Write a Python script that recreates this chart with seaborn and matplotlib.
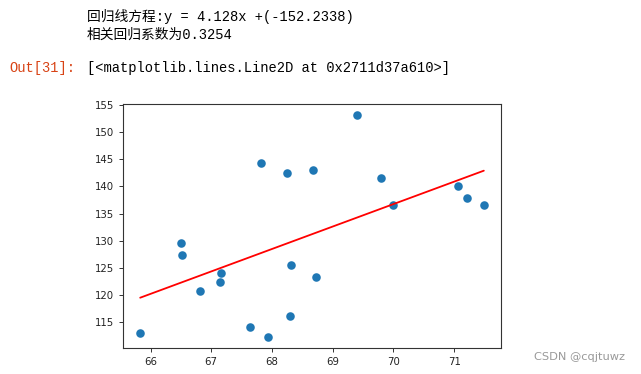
import matplotlib.pyplot as plt
import seaborn as sns
import numpy as np

# data
height = [65.83, 66.50, 66.52, 66.82, 67.14, 67.16, 67.64, 67.82, 67.93, 68.25,
          68.30, 68.32, 68.68, 68.72, 69.40, 69.79, 70.00, 71.07, 71.22, 71.49]
weight = [113.0, 129.5, 127.4, 120.7, 122.4, 124.1, 114.2, 144.3, 112.3, 142.4,
          116.1, 125.6, 143.0, 123.3, 153.1, 141.6, 136.5, 140.0, 137.8, 136.5]
slope = 4.128
intercept = -152.2338
r_value = 0.3254

sns.set_style("ticks")
plt.rcParams['font.family'] = ['DejaVu Sans', 'Noto Sans CJK SC']

fig = plt.figure(figsize=(6.41, 3.74), dpi=100)
ax = fig.add_axes([0.1919, 0.0695, 0.5897, 0.6524])

sns.scatterplot(x=height, y=weight, ax=ax, color='#1f77b4', s=38, linewidth=0)
xs = np.array(sorted(height))
ax.plot(xs, slope * xs + intercept, color='red', linewidth=1.3)

ax.margins(0.05)
ax.set_xticks([66, 67, 68, 69, 70, 71])
ax.set_yticks([115, 120, 125, 130, 135, 140, 145, 150, 155])
ax.tick_params(labelsize=7.3, length=3, width=0.7, colors='#333333', labelcolor='#222222')
for sp in ax.spines.values():
    sp.set_linewidth(0.8)
    sp.set_color('#333333')
    sp.set_visible(True)

# notebook output text around the chart
mono = ['Liberation Mono', 'Noto Sans CJK SC']
fs = 9.9
fig.text(87 / 641, 1 - 17 / 374, f"回归线方程:y = {slope}x +({intercept})",
         family=mono, fontsize=fs, va='center', ha='left', color='black')
fig.text(87 / 641, 1 - 35 / 374, f"相关回归系数为{r_value}",
         family=mono, fontsize=fs, va='center', ha='left', color='black')
fig.text(9 / 641, 1 - 68 / 374, "Out[31]:",
         family=mono, fontsize=fs, va='center', ha='left', color='#d84315')
fig.text(87 / 641, 1 - 68 / 374, "[<matplotlib.lines.Line2D at 0x2711d37a610>]",
         family=mono, fontsize=fs, va='center', ha='left', color='black')
fig.text(625 / 641, 1 - 357 / 374, "CSDN @cqjtuwz",
         fontsize=8.2, va='center', ha='right', color='#999999')

fig.savefig('out.png', dpi=100)
